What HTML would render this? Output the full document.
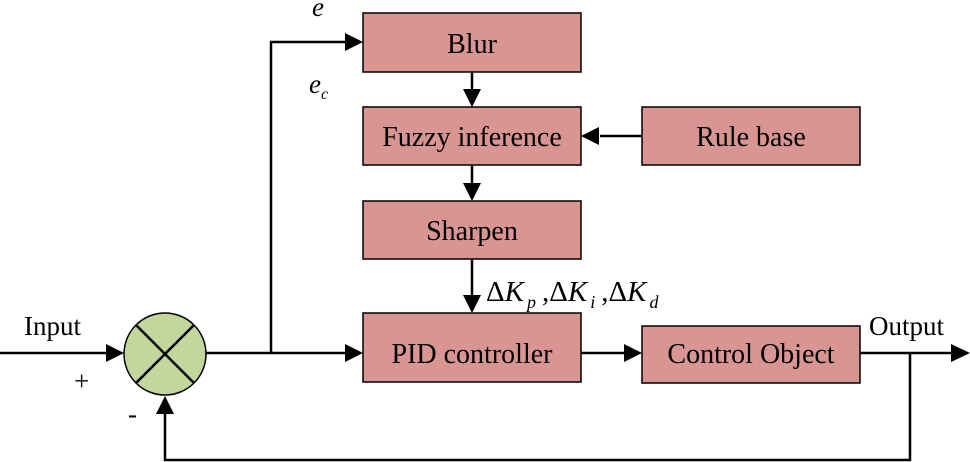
<!DOCTYPE html>
<html><head><style>body{margin:0;background:#fff}svg{display:block}</style></head><body>
<svg width="970" height="462" xmlns="http://www.w3.org/2000/svg" font-family="Liberation Serif, serif">
<g fill="#d99592" stroke="#000" stroke-width="1.5">
<rect x="363" y="13" width="218" height="59"/>
<rect x="363" y="107" width="218" height="58"/>
<rect x="642" y="107" width="218" height="58"/>
<rect x="363" y="201" width="218" height="58"/>
<rect x="363" y="313" width="218" height="69"/>
<rect x="642" y="326" width="218" height="57"/>
</g>
<circle cx="165" cy="354" r="41" fill="#c3d69b" stroke="#000" stroke-width="1.5"/>
<g stroke="#000" stroke-width="2.5" fill="none">
<line x1="136" y1="325" x2="194" y2="383"/><line x1="194" y1="325" x2="136" y2="383"/>
<polyline points="0,353 108,353"/>
<polyline points="206,353 345,353"/>
<polyline points="271,353 271,42 345,42"/>
<line x1="472" y1="72" x2="472" y2="90"/>
<line x1="642" y1="136" x2="600" y2="136"/>
<line x1="472" y1="165" x2="472" y2="184"/>
<line x1="472" y1="259" x2="472" y2="296"/>
<line x1="581" y1="353" x2="625" y2="353"/>
<line x1="860" y1="353" x2="952" y2="353"/>
<polyline points="910,353 910,460 165,460 165,414"/>
</g>
<g fill="#000">
<polygon points="124,353 106,344 106,362"/>
<polygon points="363,353 345,344 345,362"/>
<polygon points="363,42 345,33 345,51"/>
<polygon points="472,107 463,89 481,89"/>
<polygon points="581,136 599,127 599,145"/>
<polygon points="472,201 463,183 481,183"/>
<polygon points="472,313 463,295 481,295"/>
<polygon points="642,353 624,344 624,362"/>
<polygon points="970,353 951,344 951,362"/>
<polygon points="165,396 156,414 174,414"/>
</g>
<g font-size="28" text-anchor="middle">
<text x="472" y="53">Blur</text>
<text x="472" y="146">Fuzzy inference</text>
<text x="751" y="146">Rule base</text>
<text x="472" y="240">Sharpen</text>
<text x="472" y="363">PID controller</text>
<text x="751" y="363">Control Object</text>
</g>
<g font-size="27">
<text x="24" y="335">Input</text>
<text x="869" y="335">Output</text>
<text x="74" y="390">+</text>
<text x="128" y="423">-</text>
<text x="312" y="16" font-style="italic">e</text>
<text x="309" y="93" font-style="italic">e<tspan font-size="16" dy="6">c</tspan></text>
<text x="486" y="301" font-size="29">Δ<tspan font-style="italic">K</tspan><tspan font-size="18" font-style="italic" dx="3" dy="7">p</tspan><tspan dx="6" dy="-7">,Δ</tspan><tspan font-style="italic">K</tspan><tspan font-size="18" font-style="italic" dx="3" dy="7">i</tspan><tspan dx="6" dy="-7">,Δ</tspan><tspan font-style="italic">K</tspan><tspan font-size="18" font-style="italic" dx="3" dy="7">d</tspan></text>
</g>
</svg>
</body></html>
